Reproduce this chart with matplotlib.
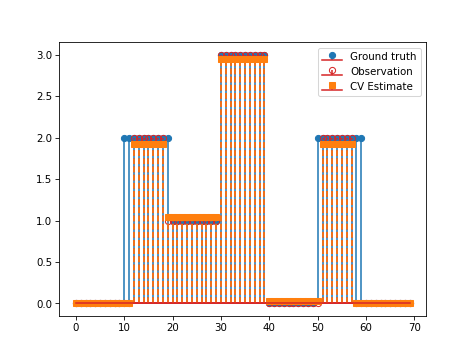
import numpy as np
import matplotlib
matplotlib.use("Agg")
import matplotlib.pyplot as plt

# sample index
n = np.arange(70)

# piecewise-constant ground truth (blocks of 10)
truth_levels = [0, 2, 1, 3, 0, 2, 0]
truth_lengths = [10, 10, 10, 10, 10, 10, 10]

# observed signal (shifted steps)
obs_levels = [0, 2, 1, 3, 0, 2, 0]
obs_lengths = [12, 7, 11, 10, 11, 7, 12]

# cross-validated estimate, shrunk plateaus
est_levels = [0.0, 1.92, 1.04, 2.95, 0.03, 1.92, 0.0]
est_lengths = [12, 7, 11, 10, 11, 7, 12]

truth = np.repeat(truth_levels, truth_lengths)
obs = np.repeat(obs_levels, obs_lengths)
est = np.repeat(est_levels, est_lengths)

fig, ax = plt.subplots(figsize=(6.4, 4.8), dpi=74)

ax.stem(n, truth, linefmt="C0-", markerfmt="C0o", basefmt="C3-",
        label="Ground truth")
_, _, _ = obs_stem = ax.stem(n, obs, linefmt="C3--", markerfmt="C3o",
                             basefmt="C3-", label="Observation")
obs_stem.markerline.set_markerfacecolor("none")
ax.stem(n, est, linefmt="C1--", markerfmt="C1s", basefmt="C3-",
        label="CV Estimate")

ax.legend(loc="upper right")

fig.savefig("out.png", dpi=74)
